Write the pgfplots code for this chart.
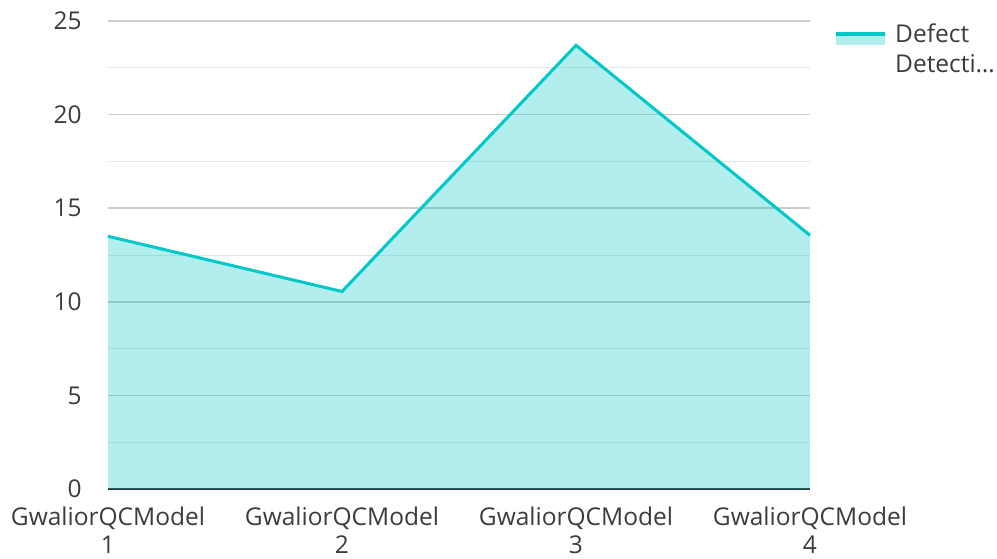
\documentclass[border=0pt]{standalone}
\usepackage{pgfplots}
\pgfplotsset{compat=1.18}
\usepackage{fontspec}
\setmainfont{Open Sans}
\definecolor{txt}{HTML}{3C3C3C}
\definecolor{lin}{HTML}{00C8C8}
\definecolor{gmaj}{HTML}{CCCCCC}
\definecolor{gmin}{HTML}{E6E6E6}
\begin{document}
\fontsize{24.5}{30}\selectfont
\begin{tikzpicture}[x=1pt,y=1pt]
\useasboundingbox (0,0) rectangle (997,558);
\begin{axis}[
  at={(108pt,69pt)}, anchor=origin,
  scale only axis, width=702pt, height=468pt,
  xmin=0, xmax=3, ymin=0, ymax=25,
  xtick={0,1,2,3},
  xticklabels={GwaliorQCModel\\1,GwaliorQCModel\\2,GwaliorQCModel\\3,GwaliorQCModel\\4},
  xticklabel style={align=center, text=txt, font=\fontsize{24.5}{28}\selectfont, yshift=-10pt},
  ytick={0,5,10,15,20,25},
  minor ytick={2.5,7.5,12.5,17.5,22.5},
  yticklabel style={text=txt, font=\fontsize{24.5}{30}\selectfont, xshift=-18pt},
  /pgf/number format/assume math mode=true,
  major tick length=0pt, minor tick length=0pt,
  ymajorgrids, yminorgrids,
  major grid style={gmaj, line width=1.5pt},
  minor grid style={gmin, line width=1pt},
  axis x line*=bottom, axis y line*=left,
  y axis line style={draw=none},
  x axis line style={draw=black!80, line width=1.8pt, -},
  clip=false,
]
\addplot[draw=none, fill=lin, fill opacity=0.3] coordinates {(0,13.5) (1,10.55) (2,23.7) (3,13.55)} \closedcycle;
\addplot[lin, line width=3pt, line join=miter] coordinates {(0,13.5) (1,10.55) (2,23.7) (3,13.55)};
\end{axis}
\fill[lin, opacity=0.3] (836,513) rectangle (885,522);
\draw[lin, line width=3.5pt] (836,524) -- (885,524);
\node[anchor=base west, inner sep=0pt, text=txt] at (895,515) {Defect};
\node[anchor=base west, inner sep=0pt, text=txt] at (895,485) {Detecti\ldots};
\end{tikzpicture}
\end{document}
